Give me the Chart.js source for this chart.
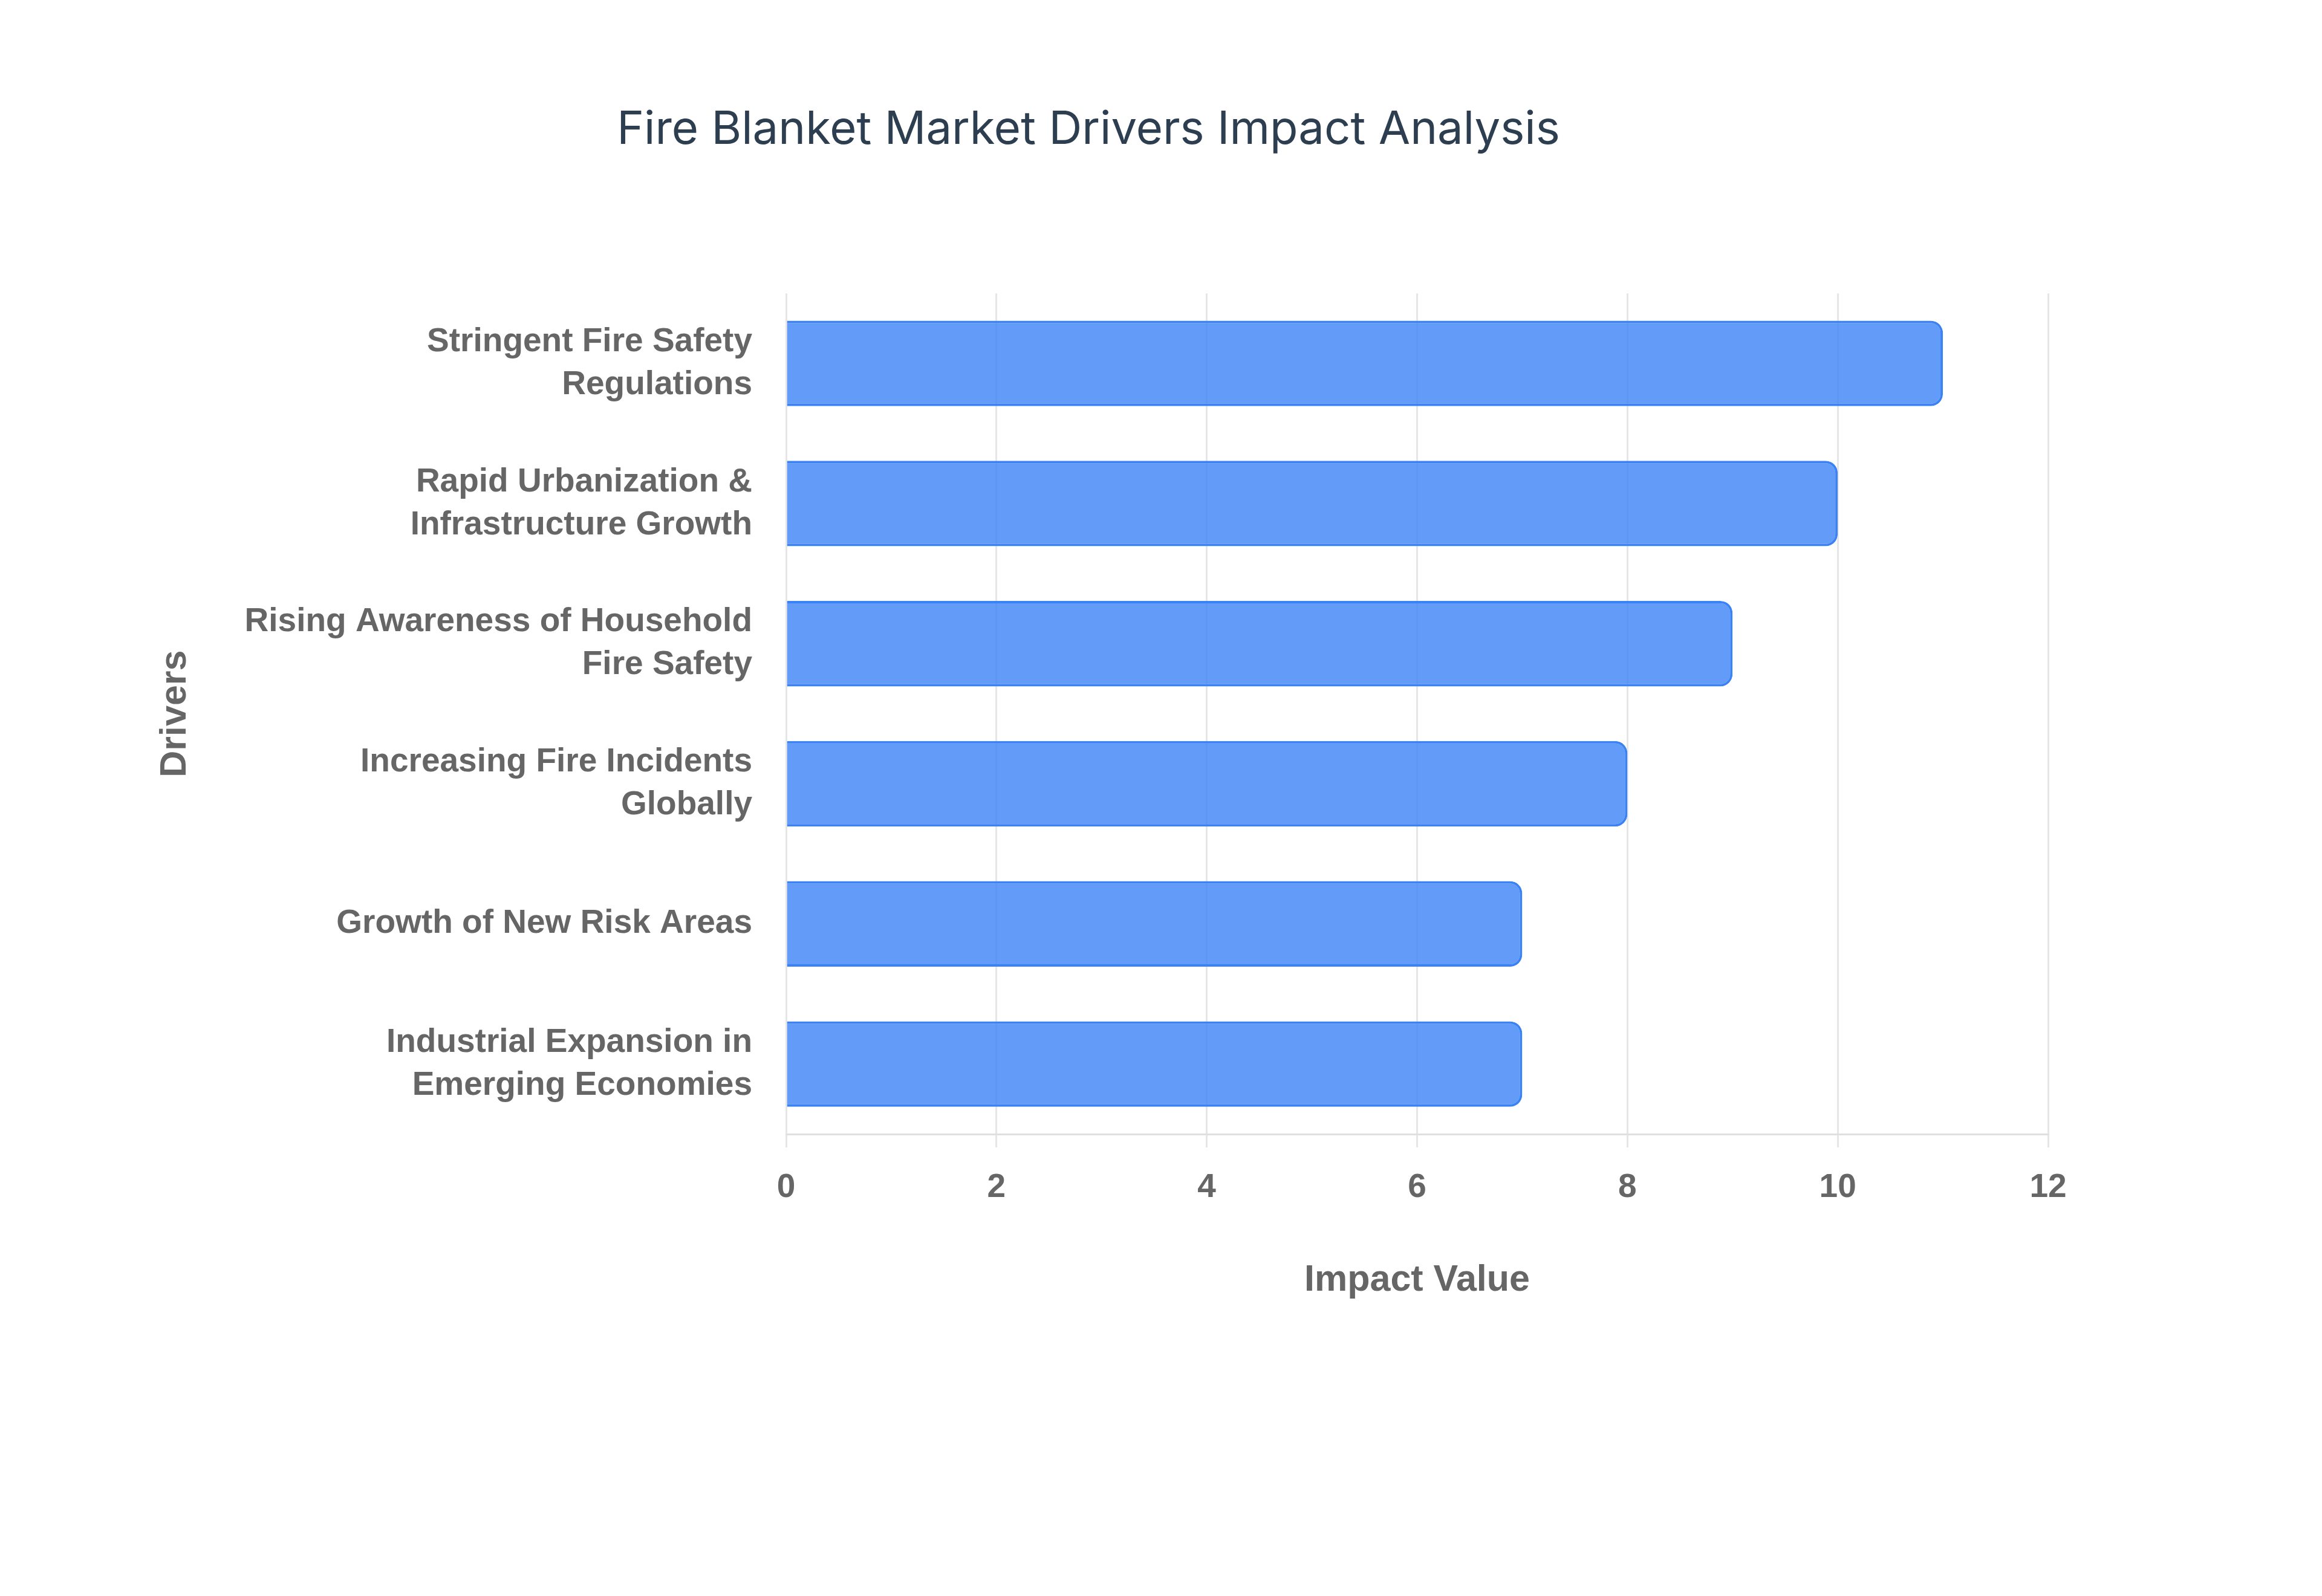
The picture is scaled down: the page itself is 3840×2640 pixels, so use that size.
<!DOCTYPE html>
<html>
<head>
<meta charset="utf-8">
<script src="https://cdn.jsdelivr.net/npm/chart.js@4.4.1/dist/chart.umd.min.js"></script>
<style>
  html, body { margin: 0; padding: 0; background: #ffffff; }
  #wrap { width: 3840px; height: 2640px; position: relative; }
</style>
</head>
<body>
<div id="wrap"><canvas id="driversChart"></canvas></div>
<script>
// Drivers (top to bottom) and their impact values
const drivers = [
    ['Stringent Fire Safety', 'Regulations'],
    ['Rapid Urbanization &', 'Infrastructure Growth'],
    ['Rising Awareness of Household', 'Fire Safety'],
    ['Increasing Fire Incidents', 'Globally'],
    'Growth of New Risk Areas',
    ['Industrial Expansion in', 'Emerging Economies']
];
const impactValues = [11, 10, 9, 8, 7, 7];
const xTicks = [0, 2, 4, 6, 8, 10, 12];

const labelGrey = '#666666';
const sansFamily = "'Liberation Sans', Arial, sans-serif";
const tickFont = { family: sansFamily, weight: 'bold', size: 55 };
const axisTitleFont = { family: sansFamily, weight: 'bold', size: 61, lineHeight: 1.2 };

const ctx = document.getElementById('driversChart').getContext('2d');
new Chart(ctx, {
    type: 'bar',
    data: {
        labels: drivers,
        datasets: [{
            label: 'Impact Value',
            data: impactValues,
            backgroundColor: 'rgba(59, 130, 246, 0.8)',
            borderColor: 'rgb(59, 130, 246)',
            borderWidth: 4,
            borderRadius: 20,
            borderSkipped: 'start',
            categoryPercentage: 1.0,
            barPercentage: 0.61
        }]
    },
    options: {
        indexAxis: 'y',
        responsive: true,
        maintainAspectRatio: false,
        devicePixelRatio: 1,
        animation: false,
        layout: { padding: { left: 213, right: 453, top: 0, bottom: 0 } },
        plugins: {
            legend: { display: false },
            tooltip: { enabled: false },
            title: {
                display: true,
                text: 'Fire Blanket Market Drivers Impact Analysis',
                color: '#2C3E50',
                font: { family: 'Inter, Noto Sans, sans-serif', size: 76, weight: 'normal', lineHeight: 1.2 },
                padding: { top: 170, bottom: 224 }
            }
        },
        scales: {
            x: {
                min: 0,
                max: 12,
                afterBuildTicks: (scale) => { scale.ticks = xTicks.map(v => ({ value: v })); },
                afterFit: (scale) => { scale.height = 764; },
                grid: { color: '#e6e6e6', lineWidth: 3, tickLength: 22, drawTicks: true },
                border: { display: true, color: '#e0e0e0', width: 3 },
                ticks: { color: labelGrey, font: tickFont, padding: 34, maxRotation: 0 },
                title: {
                    display: true,
                    text: 'Impact Value',
                    color: labelGrey,
                    font: axisTitleFont,
                    padding: { top: 0, bottom: 485 }
                }
            },
            y: {
                afterFit: (scale) => { scale.width = 1087; },
                grid: { display: false, drawTicks: false },
                border: { display: false },
                ticks: { color: labelGrey, font: Object.assign({}, tickFont, { lineHeight: 1.29 }), padding: 56 },
                title: {
                    display: true,
                    text: 'Drivers',
                    color: labelGrey,
                    font: axisTitleFont,
                    padding: { top: 41, bottom: 0 }
                }
            }
        }
    }
});
</script>
</body>
</html>
